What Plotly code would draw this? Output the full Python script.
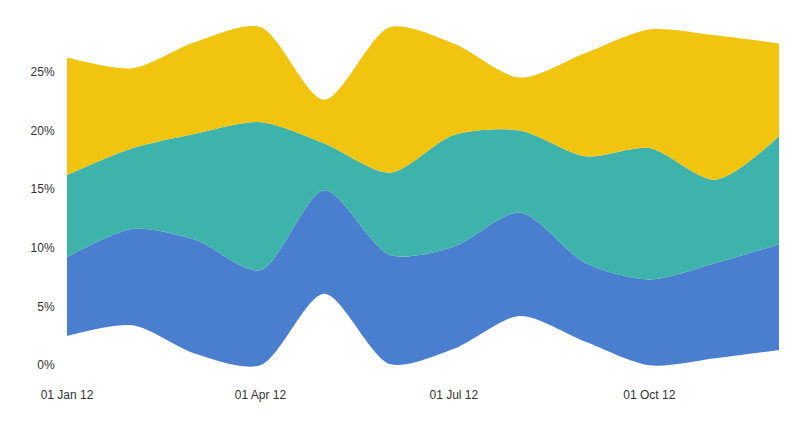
import plotly.graph_objects as go

# monthly points, 2012
months = ["2012-01-01", "2012-02-01", "2012-03-01", "2012-04-01", "2012-05-01", "2012-06-01",
          "2012-07-01", "2012-08-01", "2012-09-01", "2012-10-01", "2012-11-01", "2012-12-01"]

# stream offset (bottom white area) and the three layers, in percent
offset = [2.5, 3.4, 1.0, 0.0, 6.1, 0.1, 1.4, 4.2, 2.0, 0.0, 0.6, 1.3]
blue = [6.7, 8.2, 9.7, 8.1, 8.8, 9.3, 8.7, 8.8, 6.7, 7.3, 8.1, 9.0]
teal = [7.0, 6.9, 9.0, 12.6, 4.0, 7.0, 9.5, 7.0, 9.1, 11.2, 7.1, 9.2]
yellow = [10.0, 6.8, 7.8, 8.1, 3.7, 12.4, 7.8, 4.5, 8.8, 10.1, 12.3, 7.9]

y_ticks = [0, 5, 10, 15, 20, 25]
y_labels = [f"{v}%" for v in y_ticks]

fig = go.Figure()
fig.add_trace(go.Scatter(x=months, y=offset, stackgroup="s", mode="lines",
                         line=dict(width=0, shape="spline", smoothing=0.8),
                         fillcolor="rgba(0,0,0,0)", hoverinfo="skip", showlegend=False))
for vals, col in [(blue, "#4A7ECE"), (teal, "#3EB3AB"), (yellow, "#F1C40F")]:
    fig.add_trace(go.Scatter(x=months, y=vals, stackgroup="s", mode="lines",
                             line=dict(width=0, shape="spline", smoothing=0.8, color=col),
                             fillcolor=col, showlegend=False))

fig.update_xaxes(range=["2012-01-01", "2012-12-01"], showgrid=False, zeroline=False,
                 showline=False, tickformat="%d %b %y", dtick="M3", tick0="2012-01-01",
                 ticks="outside", ticklen=7, tickcolor="rgba(0,0,0,0)", automargin=False,
                 tickfont=dict(family="Liberation Sans, Arial", size=12, color="#333"))
fig.update_yaxes(range=[-1, 30], showgrid=False, zeroline=False, showline=False,
                 tickvals=y_ticks, ticktext=y_labels,
                 ticks="outside", ticklen=9, tickcolor="rgba(0,0,0,0)", automargin=False,
                 tickfont=dict(family="Liberation Sans, Arial", size=12, color="#333"))
# page body adds ~8px offset, so margins are shifted accordingly
fig.update_layout(width=801, height=432, margin=dict(l=59, r=30, t=5, b=63),
                  plot_bgcolor="white", paper_bgcolor="white")

fig.write_html("out.html")
